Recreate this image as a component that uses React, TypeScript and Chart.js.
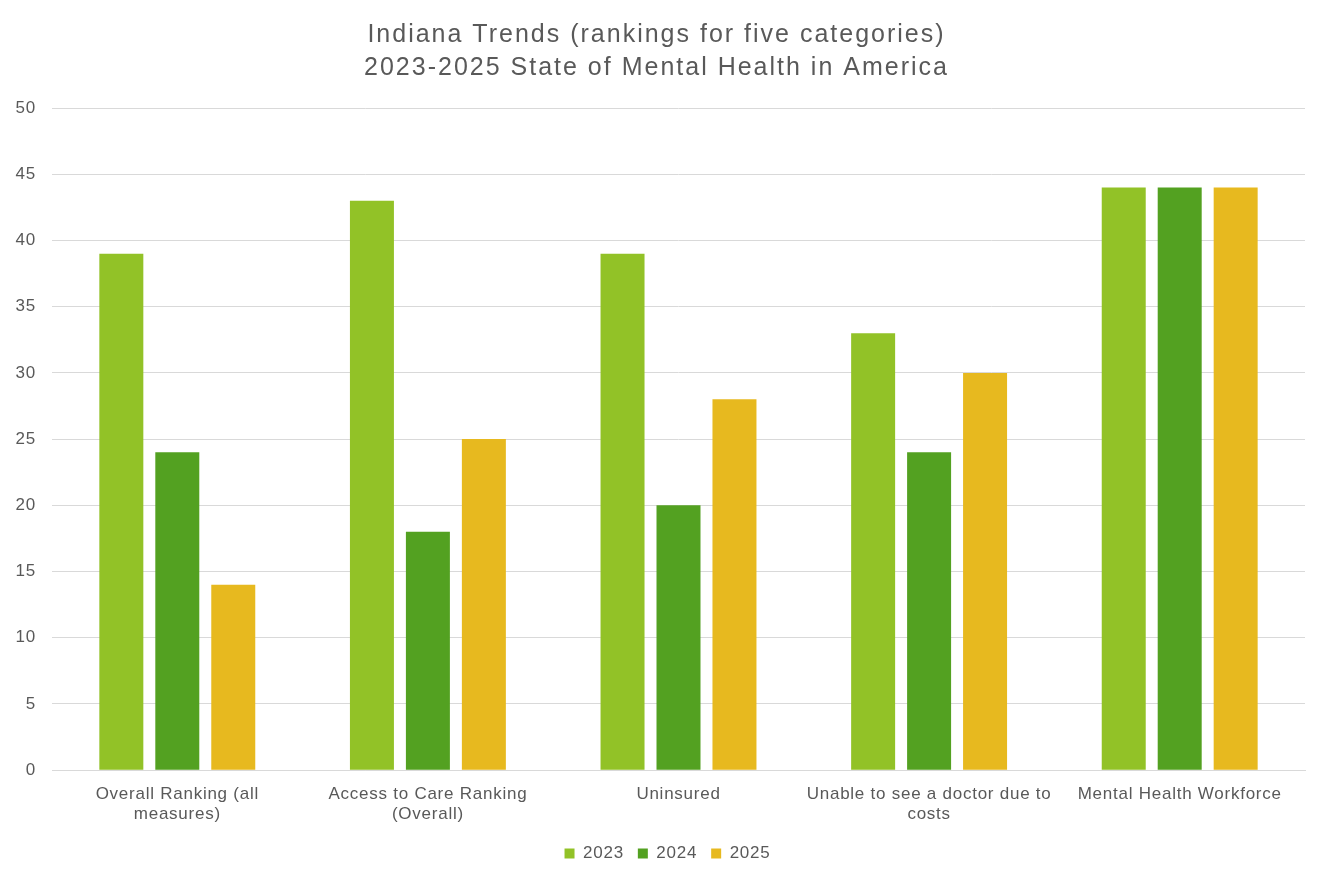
import React, { useEffect, useRef } from "react";
import { Chart, registerables } from "chart.js";

Chart.register(...registerables);

const categories: (string | string[])[] = [
  ["Overall Ranking (all", "measures)"],
  ["Access to Care Ranking", "(Overall)"],
  "Uninsured",
  ["Unable to see a doctor due to", "costs"],
  "Mental Health Workforce",
];
const values2023 = [39, 43, 39, 33, 44];
const values2024 = [24, 18, 20, 24, 44];
const values2025 = [14, 25, 28, 30, 44];
const seriesLabels = ["2023", "2024", "2025"];
const titleLines = ["Indiana Trends (rankings for five categories)", "2023-2025 State of Mental Health in America"];

const spacingPlugin = {
  id: "letterSpacing",
  afterInit(chart: any) {
    const ctx = chart.ctx as any;
    ctx.letterSpacing = "0.75px";
    const tb = chart.titleBlock;
    if (tb) {
      const orig = tb.draw.bind(tb);
      tb.draw = (...args: any[]) => {
        ctx.save();
        ctx.letterSpacing = "2px";
        ctx.translate(4, 0);
        orig(...args);
        ctx.restore();
      };
    }
    const lg = chart.legend;
    if (lg) {
      const origL = lg.draw.bind(lg);
      lg.draw = (...args: any[]) => {
        ctx.save();
        ctx.translate(15, 0);
        origL(...args);
        ctx.restore();
      };
    }
  },
};

export default function App() {
  const ref = useRef<HTMLCanvasElement>(null);
  useEffect(() => {
    document.body.style.margin = "0";
    const font = "'Liberation Sans', Arial, sans-serif";
    const chart = new Chart(ref.current!, {
      type: "bar",
      data: {
        labels: categories,
        datasets: [
          { label: seriesLabels[0], data: values2023, backgroundColor: "#92C227" },
          { label: seriesLabels[1], data: values2024, backgroundColor: "#53A121" },
          { label: seriesLabels[2], data: values2025, backgroundColor: "#E7B91F" },
        ],
      },
      plugins: [spacingPlugin],
      options: {
        animation: false,
        responsive: false,
        maintainAspectRatio: false,
        datasets: { bar: { categoryPercentage: 0.67, barPercentage: 0.786 } },
        layout: { padding: { top: 19, left: 0, right: 22, bottom: 11 } },
        plugins: {
          title: {
            display: true,
            text: titleLines,
            color: "#595959",
            font: { family: font, size: 25, weight: "normal", lineHeight: 1.32 },
            padding: { top: 0, bottom: 23 },
          },
          legend: {
            position: "bottom",
            labels: {
              color: "#595959",
              font: { family: font, size: 17 },
              boxWidth: 10,
              boxHeight: 10,
              padding: 14,
            },
          },
          tooltip: { enabled: false },
        },
        scales: {
          x: {
            grid: { display: false },
            border: { color: "#d9d9d9", width: 1 },
            ticks: { color: "#595959", font: { family: font, size: 17 }, maxRotation: 0, autoSkip: false, padding: 6 },
          },
          y: {
            min: 0,
            max: 50,
            ticks: { stepSize: 5, color: "#595959", font: { family: font, size: 17 }, padding: 16 },
            grid: { color: "#d9d9d9", drawTicks: false },
            border: { display: false },
            afterFit: (s: any) => { s.width = 52; },
          },
        },
      },
    });
    return () => chart.destroy();
  }, []);
  return (
    <div style={{ position: "absolute", left: 0, top: 0, width: 1327, height: 883, background: "#fff" }}>
      <canvas ref={ref} width={1327} height={883} />
    </div>
  );
}
